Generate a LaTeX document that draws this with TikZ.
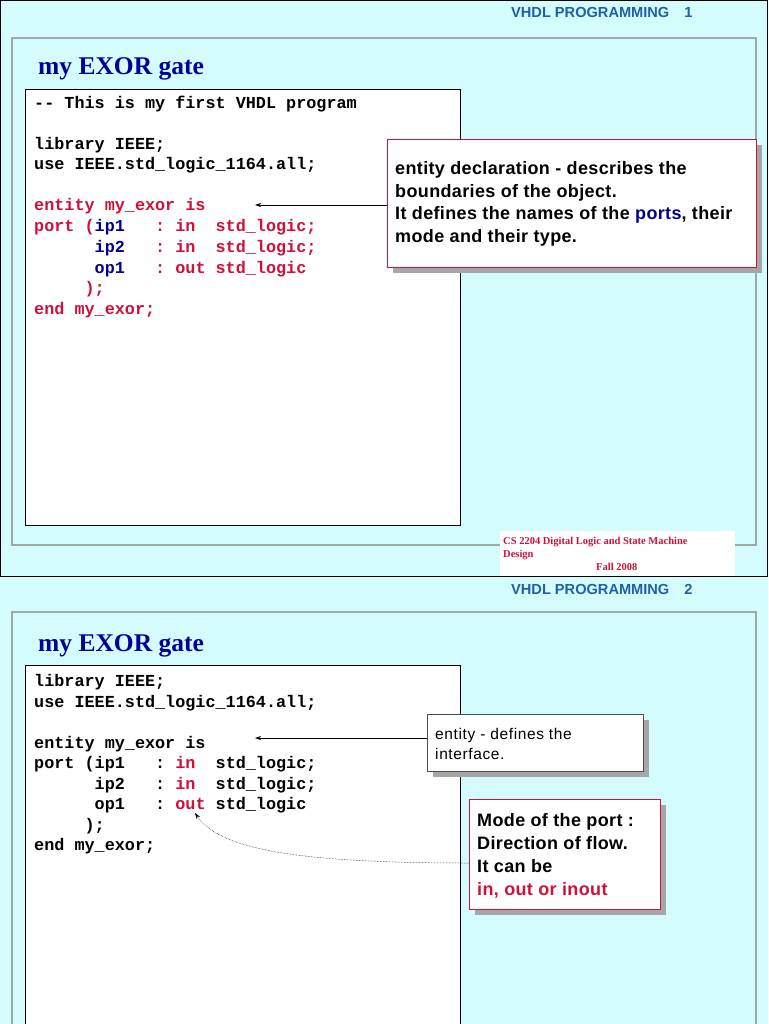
\documentclass[tikz,border=0pt]{standalone}
\usepackage{fontspec}
\setmainfont{Liberation Serif}
\setsansfont{Liberation Sans}
\setmonofont{Liberation Mono}
\newfontfamily\spsans[LetterSpace=2]{Liberation Sans}
\newfontfamily\spsansb[LetterSpace=4]{Liberation Sans}
\usetikzlibrary{arrows.meta}
\definecolor{bg}{HTML}{D4FCFD}
\definecolor{hdr}{HTML}{2060A8}
\definecolor{ttl}{HTML}{000099}
\definecolor{cred}{HTML}{D0103A}
\definecolor{cblue}{HTML}{000090}
\definecolor{frm}{HTML}{A0A8A8}
\tikzset{
  code/.style={anchor=base west,inner sep=0pt,font=\ttfamily\bfseries\fontsize{16.8}{18}\selectfont},
  hdrtxt/.style={anchor=base west,inner sep=0pt,text=hdr,font=\sffamily\bfseries\fontsize{14.6}{16}\selectfont},
  title/.style={anchor=base west,inner sep=0pt,text=ttl,font=\bfseries\fontsize{25.5}{28}\selectfont},
  calltxt/.style={anchor=base west,inner sep=0pt,font=\spsans\bfseries\fontsize{18}{20}\selectfont},
  smalltxt/.style={anchor=base west,inner sep=0pt,font=\spsansb\fontsize{15.5}{18}\selectfont},
  foot/.style={anchor=base west,inner sep=0pt,text=cred,font=\bfseries\fontsize{10.5}{12}\selectfont},
  arr/.style={-{Stealth[length=6pt,width=4pt]},line width=0.5pt},
}
\begin{document}
\begin{tikzpicture}[x=1pt,y=-1pt]
\useasboundingbox (0,0) rectangle (768,1024);
\fill[bg] (0,0) rectangle (768,1024);
\draw[line width=1pt] (0.5,0.5) rectangle (767.5,576);
\draw[frm,line width=1.2pt] (500,545) -- (12,545) -- (12,38) -- (756,38) -- (756,545) -- (735,545);
\fill[white] (500,531) rectangle (735,576);
\draw[line width=1pt] (0,576) -- (768,576);
\draw[frm,line width=1.2pt] (12,1024) -- (12,612) -- (756,612) -- (756,1024);
% slide 1
\node[hdrtxt] (h1) at (511,18) {VHDL PROGRAMMING\hspace{15pt}1};
\node[title] (t1) at (38,75) {my EXOR gate};
\node[draw,fill=white,line width=0.8pt,minimum width=435pt,minimum height=436pt,anchor=north west,inner sep=0pt] (cb1) at (25,89) {};
\node[code] (l1) at (34,109) {-{}- This is my first VHDL program};
\node[code] (l2) at (34,150) {library IEEE;};
\node[code] (l3) at (34,170) {use IEEE.std\_logic\_1164.all;};
\node[code,text=cred] (l4) at (34,211) {entity my\_exor is};
\node[code,text=cred] (l5) at (34,232) {port (\textcolor{cblue}{ip1}\ \ \ : in\ \ std\_logic;};
\node[code,text=cred] (l6) at (34,252) {\ \ \ \ \ \ \textcolor{cblue}{ip2}\ \ \ : in\ \ std\_logic;};
\node[code,text=cred] (l7) at (34,273) {\ \ \ \ \ \ \textcolor{cblue}{op1}\ \ \ : out std\_logic};
\node[code,text=cred] (l8) at (34,293) {\ \ \ \ \ );};
\node[code,text=cred] (l9) at (34,314) {end my\_exor;};
\fill[gray!70] (393,145) rectangle (762,273);
\node[draw=cred,fill=white,line width=0.8pt,minimum width=369pt,minimum height=128pt,anchor=north west,inner sep=0pt] (c1) at (387,139) {};
\node[calltxt] (c1a) at (395,175) {entity declaration - describes the};
\node[calltxt] (c1b) at (395,198) {boundaries of the object.};
\node[calltxt] (c1c) at (395,220) {It defines the names of the \textcolor{cblue}{ports}, their};
\node[calltxt] (c1d) at (395,243) {mode and their type.};
\coordinate (e1) at (255,205);
\draw[arr] (c1.west |- e1) -- (e1);
\node[foot] (f1) at (503,544) {CS 2204 Digital Logic and State Machine};
\node[foot] (f2) at (503,557) {Design};
\node[foot] (f3) at (596,570) {Fall 2008};
% slide 2
\node[hdrtxt] (h2) at (511,594) {VHDL PROGRAMMING\hspace{15pt}2};
\node[title] (t2) at (38,651) {my EXOR gate};
\node[draw,fill=white,line width=0.8pt,minimum width=435pt,minimum height=370pt,anchor=north west,inner sep=0pt] (cb2) at (25,665) {};
\node[code] (m1) at (34,686) {library IEEE;};
\node[code] (m2) at (34,707) {use IEEE.std\_logic\_1164.all;};
\node[code] (m3) at (34,748) {entity my\_exor is};
\node[code] (m4) at (34,768) {port (ip1\ \ \ : \textcolor{cred}{in}\ \ std\_logic;};
\node[code] (m5) at (34,789) {\ \ \ \ \ \ ip2\ \ \ : \textcolor{cred}{in}\ \ std\_logic;};
\node[code] (m6) at (34,809) {\ \ \ \ \ \ op1\ \ \ : \textcolor{cred}{out} std\_logic};
\node[code] (m7) at (34,830) {\ \ \ \ \ );};
\node[code] (m8) at (34,850) {end my\_exor;};
\fill[gray!70] (433,720) rectangle (649,777);
\node[draw=black!70,fill=white,line width=0.8pt,minimum width=216pt,minimum height=57pt,anchor=north west,inner sep=0pt] (c2) at (427,714) {};
\node[smalltxt] (c2a) at (435,739) {entity - defines the};
\node[smalltxt] (c2b) at (435,759) {interface.};
\coordinate (e2) at (255,738);
\draw[arr] (c2.west |- e2) -- (e2);
\fill[gray!70] (475,805) rectangle (666,915);
\node[draw=cred,fill=white,line width=0.8pt,minimum width=191pt,minimum height=110pt,anchor=north west,inner sep=0pt] (c3) at (469,799) {};
\node[calltxt] (c3a) at (477,826) {Mode of the port :};
\node[calltxt] (c3b) at (477,849) {Direction of flow.};
\node[calltxt] (c3c) at (477,872) {It can be};
\node[calltxt,text=cred] (c3d) at (477,895) {in, out or inout};
\coordinate (e3) at (195,813);
\draw[arr,densely dotted] (c3.west |- 0,863) .. controls (300,863) and (220,850) .. (e3);
\end{tikzpicture}
\end{document}
